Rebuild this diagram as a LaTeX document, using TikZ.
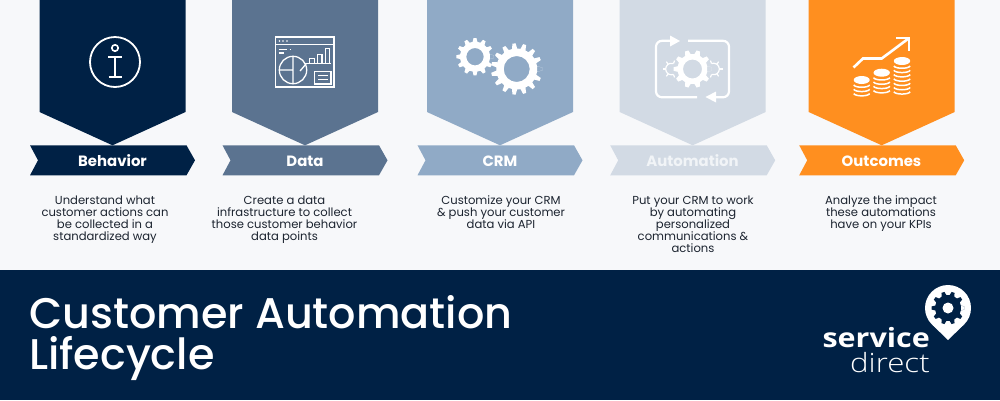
\documentclass[tikz,border=0pt]{standalone}
\usepackage{fontspec}
\setmainfont{Poppins}
\newfontfamily\titlef{Poppins Medium}
\newfontfamily\labelf{Poppins Bold}
\newfontfamily\logob[FakeStretch=1.15]{Open Sans Bold}
\newfontfamily\logol[FakeStretch=1.18]{Open Sans Light}
\definecolor{navy}{HTML}{002145}
\definecolor{slate}{HTML}{5B7390}
\definecolor{steel}{HTML}{90AAC6}
\definecolor{mist}{HTML}{D2DAE4}
\definecolor{amber}{HTML}{FF8F1F}
\definecolor{paper}{HTML}{F7F8FA}
\definecolor{ink}{HTML}{1C2430}
\newcommand{\mygear}[7]{%
  \pgfmathsetmacro\gp{360/#5}%
  \fill[#7,even odd rule,shift={(#1,#2)}] (0,0) circle[radius=#6]
    ({-0.30*\gp}:#4) \foreach \k in {0,...,#5}{
      -- ({\k*\gp-0.30*\gp}:#4) -- ({\k*\gp-0.15*\gp}:#3) -- ({\k*\gp+0.15*\gp}:#3) -- ({\k*\gp+0.30*\gp}:#4)
    } -- cycle;}
% open half gear: #1 cx, #2 cy, #3 start, #4 end
\newcommand{\halfgear}[4]{%
  \begin{scope}[shift={(#1,#2)},line width=1.2pt,white]
    \draw ({#3}:5.8) arc[start angle={#3},end angle={#4},radius=5.8];
    \foreach \m in {0,...,4} \draw ({#3+\m*55}:5.8) -- ({#3+\m*55}:9);
  \end{scope}}
\newcommand{\stack}[4]{% cx, top y, last line index, rx
  \fill[white] (#1,#2) ellipse[x radius=#4,y radius=4];
  \foreach \m in {0,...,#3}
    \draw[white,line width=1.5pt] ({#1-#4},{#2+5+\m*4.3}) .. controls ({#1-#4+2},{#2+8+\m*4.3}) and ({#1+#4-2},{#2+8+\m*4.3}) .. ({#1+#4},{#2+5+\m*4.3});}
\tikzset{
  x=1pt,y=-1pt,
  bodytxt/.style={font=\fontsize{11.6}{12}\selectfont,text=ink,align=center,anchor=north,inner sep=0pt},
  ribbontxt/.style={font=\labelf\fontsize{14.9}{15}\selectfont,text=white,inner sep=0pt},
  iconline/.style={draw=white,line width=1.3pt},
}
\newcommand{\banner}[2]{% left x of pentagon, colour
  \fill[#2] (#1,0) -- (#1+146,0) -- (#1+146,112) -- (#1+73,145.3) -- (#1,112) -- cycle;
  \fill[#2] (#1-9.5,145.3) -- (#1+147,145.3) -- (#1+155.5,160.3) -- (#1+147,175.3) -- (#1-9.5,175.3) -- (#1-1.5,160.3) -- cycle;
}
\begin{document}
\begin{tikzpicture}
\useasboundingbox (0,0) rectangle (1000,400);
\fill[paper] (0,0) rectangle (1000,400);
\fill[navy] (0,270) rectangle (1000,400);

\banner{39.5}{navy}
\banner{232}{slate}
\banner{427}{steel}
\banner{619.7}{mist}
\banner{808.7}{amber}

\node[ribbontxt] (l1) at (112.5,161) {Behavior};
\node[ribbontxt] (l2) at (305,161) {Data};
\node[ribbontxt] (l3) at (500,161) {CRM};
\node[ribbontxt,text=white!70!mist] (l4) at (692.5,161) {Automation};
\node[ribbontxt] (l5) at (881.5,161) {Outcomes};

\node[bodytxt] (t1) at (105,195.5) {Understand what\\customer actions can\\be collected in a\\standardized way};
\node[bodytxt] (t2) at (284.5,195.5) {Create a data\\infrastructure to collect\\those customer behavior\\data points};
\node[bodytxt] (t3) at (501,195.5) {Customize your CRM\\\& push your customer\\data via API};
\node[bodytxt] (t4) at (693,195.5) {Put your CRM to work\\by automating\\personalized\\communications \&\\actions};
\node[bodytxt] (t5) at (881,195.5) {Analyze the impact\\these automations\\have on your KPIs};

\node[font=\titlef\fontsize{42.9}{41}\selectfont,text=white,align=left,anchor=north west,inner sep=0pt] (title) at (29,295) {Customer Automation\\Lifecycle};

% icon 1: info
\draw[white,line width=1.8pt] (115,62) circle[radius=25];
\draw[white,line width=1.6pt] (115,48) circle[radius=3.2];
\draw[white,line width=1.6pt] (108,57) -- (122,57) (115,57) -- (115,77) (108.5,77) -- (121.5,77);

% icon 2: dashboard
\begin{scope}[iconline]
\draw (275.7,37) rectangle (334,87);
\draw (275.7,44.5) -- (334,44.5);
\draw (278.5,49.5) -- (287,49.5) (278.5,53) -- (284,53) (289.5,49.5) -- (291,49.5);
\draw (293,70) circle[radius=13.7];
\draw (293,56.3) -- (293,83.7) (279.3,70) -- (293,70) (300,71) -- (306,64);
\draw (305,63.5) -- (331,63.5);
\draw (309.5,63.5) -- (309.5,58.5) -- (314.5,58.5) -- (314.5,63.5);
\draw (317.5,63.5) -- (317.5,54.5) -- (322,54.5) -- (322,63.5);
\draw (325.5,63.5) -- (325.5,48.5) -- (329.5,48.5) -- (329.5,63.5);
\draw (314.5,71.5) rectangle (331,84);
\draw (318,75.5) -- (328,75.5) (318,79.5) -- (328,79.5);
\end{scope}
\fill[white] (279.5,41) circle[radius=.8] (283,41) circle[radius=.8] (287,41) circle[radius=.8];

% icon 3: gears
\mygear{475}{56.7}{18.7}{15}{12}{8.7}{white}
\mygear{516.7}{69}{25.7}{20.5}{15}{13}{white}

% icon 4: automation
\draw[white,line width=2.2pt,rounded corners=6pt] (672,40.8) -- (656,40.8) -- (656,97.3) -- (697,97.3);
\draw[white,line width=2.2pt,rounded corners=6pt] (688,40.8) -- (729,40.8) -- (729,97.3) -- (714,97.3);
\fill[white] (680,41) -- (670,35.5) -- (670,46.5) -- cycle;
\fill[white] (705.5,97) -- (716,91.5) -- (716,102.5) -- cycle;
\halfgear{671.5}{69}{70}{290}
\halfgear{713.5}{69}{250}{470}
\mygear{692.5}{69}{19}{15}{10}{9.5}{white}

% icon 5: coins and arrow
\draw[white,line width=2.6pt] (853.5,67.5) -- (863,58.5) -- (881.7,58.5) -- (908.5,38.5);
\draw[white,line width=2.4pt] (896,38) -- (909,38) -- (909,50.5);
\stack{861.7}{80}{2}{8}
\stack{881.7}{72.7}{3}{8.2}
\stack{902}{61}{6}{8.2}

% logo
\fill[white] (948,308) circle[radius=23];
\fill[white] (932,324.5) -- (964,324.5) -- (948,340) -- cycle;
\mygear{948}{308}{16.5}{13}{10}{0.01}{navy}
\fill[white] (948,308) circle[radius=5.5];
\node[font=\logob\fontsize{26.5}{26}\selectfont,text=white,anchor=base east,inner sep=0pt] (svc) at (930,347) {service};
\node[font=\logol\fontsize{26.5}{26}\selectfont,text=white,anchor=base east,inner sep=0pt] (dir) at (930,372) {direct};
\end{tikzpicture}
\end{document}
